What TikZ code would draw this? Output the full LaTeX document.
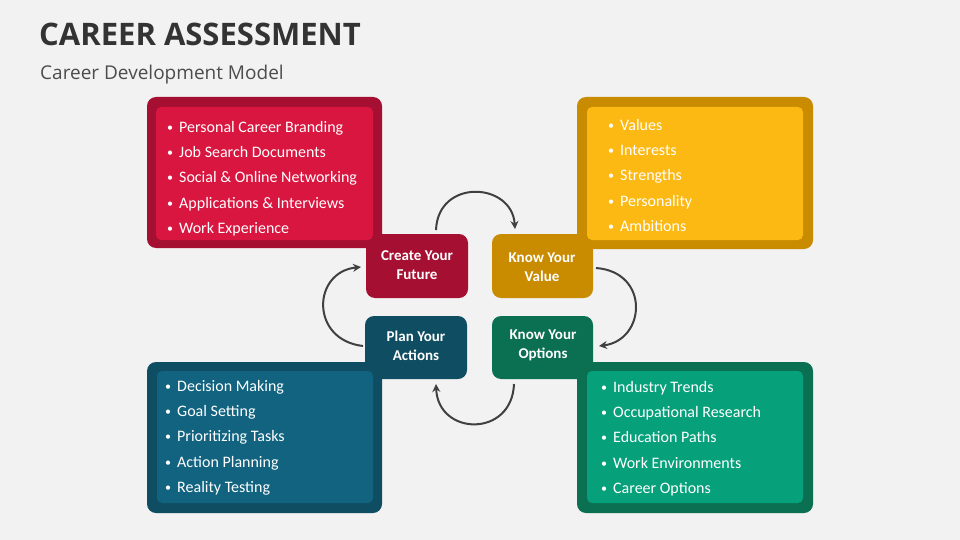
\documentclass[tikz,border=0pt]{standalone}
\usepackage{fontspec}
\setmainfont{Carlito}
\newfontfamily\titlefont{Open Sans}
\usetikzlibrary{arrows.meta}
\definecolor{bg}{HTML}{F2F2F2}
\definecolor{rD}{HTML}{A50F32}\definecolor{rL}{HTML}{D9163F}
\definecolor{yD}{HTML}{C98B00}\definecolor{yL}{HTML}{FDB913}
\definecolor{bD}{HTML}{0F4D62}\definecolor{bL}{HTML}{11637F}
\definecolor{gD}{HTML}{0B7052}\definecolor{gL}{HTML}{06A07A}
\definecolor{arr}{HTML}{404040}
\tikzset{
 outer/.style={rounded corners=9pt},
 inner/.style={rounded corners=5pt},
 lbl/.style={text=white,font=\bfseries\fontsize{15}{19}\selectfont,align=center},
 lst/.style={text=white,font=\fontsize{16}{25.3}\selectfont,align=left,anchor=north west,inner sep=0pt},
 cyc/.style={draw=arr,line width=2pt,-{Stealth[length=8pt,width=8pt]}}
}
\newcommand{\itm}[1]{\makebox[12pt][l]{\raisebox{1pt}{\scalebox{0.75}{\textbullet}}}#1}
\begin{document}
\begin{tikzpicture}[x=1pt,y=-1pt]
\fill[bg] (0,0) rectangle (960,540);
\useasboundingbox (0,0) rectangle (960,540);
\node[anchor=base west,inner sep=0pt,font=\titlefont\bfseries\fontsize{31}{36}\selectfont,text=black!80] (t) at (39,46) {CAREER ASSESSMENT};
\node[anchor=base west,inner sep=0pt,font=\titlefont\fontsize{19}{23}\selectfont,text=black!70] (st) at (40,80) {Career Development Model};
% red
\fill[rD,outer] (147,97) rectangle (382,248);
\fill[rD,outer] (366,234) rectangle (468,298);
\fill[rL,inner] (156,107) rectangle (373,240);
% yellow
\fill[yD,outer] (577,97) rectangle (813,249);
\fill[yD,outer] (492,234) rectangle (593,298);
\fill[yL,inner] (587,107) rectangle (803,240);
% blue
\fill[bD,outer] (147,362) rectangle (382,513);
\fill[bD,outer] (365,316) rectangle (467,379);
\fill[bL,inner] (157,371) rectangle (373,503);
% green
\fill[gD,outer] (577,362) rectangle (813,513);
\fill[gD,outer] (492,316) rectangle (593,379);
\fill[gL,inner] (587,371) rectangle (803,503);
% labels
\node[lbl] (cf) at (417,265) {Create Your\\Future};
\node[lbl] (kv) at (542,267) {Know Your\\Value};
\node[lbl] (pa) at (416,346) {Plan Your\\Actions};
\node[lbl] (ko) at (543,345) {Know Your\\Options};
% lists
\node[lst] (l1) at (167,121) {\itm{Personal Career Branding}\\\itm{Job Search Documents}\\\itm{Social \& Online Networking}\\\itm{Applications \& Interviews}\\\itm{Work Experience}};
\node[lst] (l2) at (608,119) {\itm{Values}\\\itm{Interests}\\\itm{Strengths}\\\itm{Personality}\\\itm{Ambitions}};
\node[lst] (l3) at (165,380) {\itm{Decision Making}\\\itm{Goal Setting}\\\itm{Prioritizing Tasks}\\\itm{Action Planning}\\\itm{Reality Testing}};
\node[lst] (l4) at (601,381) {\itm{Industry Trends}\\\itm{Occupational Research}\\\itm{Education Paths}\\\itm{Work Environments}\\\itm{Career Options}};
% cycle arrows
\coordinate (a1) at (436,230); \coordinate (a2) at (515,229);
\coordinate (b1) at (596,268); \coordinate (b2) at (599,346);
\coordinate (c1) at (514,384); \coordinate (c2) at (436,384);
\coordinate (d1) at (363,346); \coordinate (d2) at (361,267);
\draw[cyc] (a1) .. controls (438,178) and (512,182) .. (a2);
\draw[cyc] (b1) .. controls (650,272) and (646,340) .. (b2);
\draw[cyc] (c1) .. controls (512,438) and (438,436) .. (c2);
\draw[cyc] (d1) .. controls (310,340) and (312,272) .. (d2);
\end{tikzpicture}
\end{document}
